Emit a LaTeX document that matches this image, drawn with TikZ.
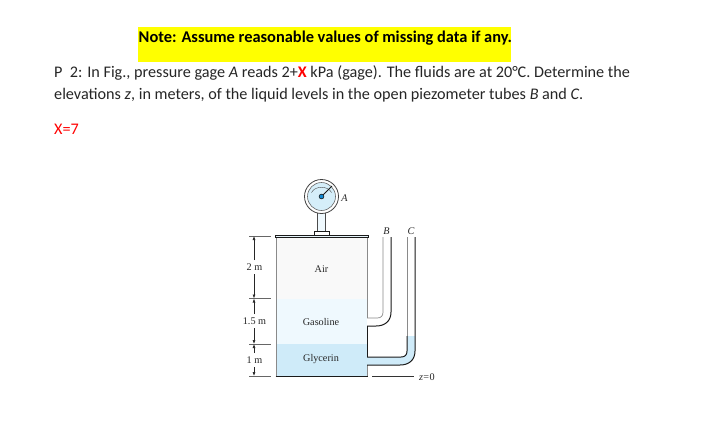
\documentclass[tikz,border=0pt]{standalone}
\usepackage{fontspec}
\setmainfont{Carlito}
\newfontfamily\dgmfont{Liberation Serif}
\usetikzlibrary{arrows.meta}
\definecolor{airc}{HTML}{F9F9F9}
\definecolor{gasc}{HTML}{EFF9FE}
\definecolor{glyc}{HTML}{CFEBF9}
\definecolor{gaugec}{HTML}{D5EEF9}
\definecolor{wallc}{HTML}{8A8A8A}
\definecolor{inkc}{HTML}{1A1A1A}
\definecolor{notec}{HTML}{FFFF00}
\tikzset{
  para/.style={anchor=base west,inner sep=0pt,font=\fontsize{16.2}{19}\selectfont,text=black!85},
  dgm/.style={inner sep=0pt,font=\dgmfont\fontsize{10.2}{11}\selectfont,text=black!85},
  dgmit/.style={inner sep=0pt,font=\dgmfont\itshape\fontsize{10.2}{11}\selectfont,text=black!85},
  tick/.style={draw=black!60,line width=0.6pt},
  dimline/.style={draw=black!85,line width=0.6pt,-{Latex[length=4pt,width=3pt]}},
  wallthin/.style={draw=wallc,line width=0.7pt},
  wallthick/.style={draw=inkc,line width=1pt},
}
\begin{document}
\begin{tikzpicture}[x=1pt,y=-1pt]
\useasboundingbox (0,0) rectangle (712,424);
\fill[white] (0,0) rectangle (712,424);
% note
\fill[notec] (138,27) rectangle (511,62);
\node[para,font=\bfseries\fontsize{16.4}{19}\selectfont,text=black] (note) at (138.5,42) {Note: Assume reasonable values of missing data if any.};
\node[para] (l1) at (54,77) {P\ \ 2: In Fig., pressure gage \textit{A} reads 2+{\bfseries\color{red}X} kPa (gage). The fluids are at 20°C. Determine the};
\node[para] (l2) at (54,99) {elevations \textit{z}, in meters, of the liquid levels in the open piezometer tubes \textit{B} and \textit{C}.};
\node[para,text=red] (xval) at (54,134) {X=7};
% fluids
\fill[airc] (276,236) rectangle (367,298.5);
\fill[gasc] (276,298.5) rectangle (367,344);
\fill[glyc] (276,344) rectangle (367,376);
% tube C liquid
\fill[glyc] (367,357) -- (401,357) .. controls (405,357) and (407,355) .. (407,351) -- (407,336) -- (415,336) -- (415,351) .. controls (415,360) and (409,365) .. (400,365) -- (367,365) -- cycle;
% tank walls
\draw[draw=wallc,line width=1pt] (276,236) -- (276,376);
\draw[draw=wallc,line width=1pt] (367,236) -- (367,318);
\draw[draw=inkc,line width=1pt] (367,326) -- (367,357);
\draw[draw=wallc,line width=1pt] (367,365) -- (367,376);
\draw[draw=inkc,line width=0.9pt] (275.5,376) -- (367.5,376);
% top plate
\fill[gaugec!60!white,draw=inkc,line width=0.7pt] (275,235) rectangle (368,237.5);
% tube B
\draw[wallthin] (383,237) -- (383,312) .. controls (383,316) and (381,318) .. (377,318) -- (367,318);
\draw[wallthick] (391,237) -- (391,312) .. controls (391,321) and (385,326) .. (376,326) -- (367,326);
% tube C
\draw[wallthin] (407,237) -- (407,336);
\draw[wallthick] (407,336) -- (407,351) .. controls (407,355) and (405,357) .. (401,357) -- (367,357);
\draw[wallthick] (415,237) -- (415,351) .. controls (415,360) and (409,365) .. (400,365) -- (367,365);
% stem and gauge
\fill[gasc,draw=black!70,line width=0.7pt] (317.5,212) rectangle (325.5,231);
\fill[white,draw=inkc,line width=0.8pt] (314,231) rectangle (329,235);
\fill[white,draw=black!75,line width=0.8pt] (321.5,196.5) circle (17);
\fill[gaugec,draw=black!60,line width=0.6pt] (321.5,196.5) circle (14);
\draw[black!70,line width=0.4pt] (311.5,192.5) .. controls (315,185.5) and (328,185.5) .. (331.5,192.5);
\draw[inkc,line width=0.8pt] (321.5,196.5) -- (332,186);
\fill[cyan!70!blue,draw=inkc,line width=0.6pt] (321.5,196.5) circle (2.4);
\node[dgmit] (lblA) at (344.5,198) {A};
% labels
\node[dgmit] (lblB) at (386.5,231) {B};
\node[dgmit] (lblC) at (411,231) {C};
\node[dgm] (air) at (321.5,269.5) {Air};
\node[dgm] (gas) at (321,322) {Gasoline};
\node[dgm] (gly) at (321,359.5) {Glycerin};
\node[dgm] (d2) at (254.5,267) {2 m};
\node[dgm] (d15) at (254.5,321) {1.5 m};
\node[dgm] (d1) at (254.5,360) {1 m};
\node[dgm,anchor=west] (z0) at (419,377) {\textit{z}\kern0.3pt=\kern0.3pt0};
% dimensions
\coordinate (t0) at (254,236);
\coordinate (t1) at (254,298.5);
\coordinate (t2) at (254,344);
\coordinate (t3) at (254,376);
\draw[tick] (249,236) -- (271,236);
\draw[tick] (249,298.5) -- (271,298.5);
\draw[tick] (249,344) -- (271,344);
\draw[tick] (249,376) -- (271,376);
\draw[dimline] (254,260) -- (t0);
\draw[dimline] (254,274) -- (t1);
\draw[dimline] (254,314) -- (t1);
\draw[dimline] (254,328) -- (t2);
\draw[dimline] (254,353) -- (t2);
\draw[dimline] (254,367) -- (t3);
\coordinate (z1) at (372,376);
\coordinate (z2) at (414,376);
\draw[draw=black!80,line width=0.8pt] (z1) -- (z2);
\end{tikzpicture}
\end{document}
